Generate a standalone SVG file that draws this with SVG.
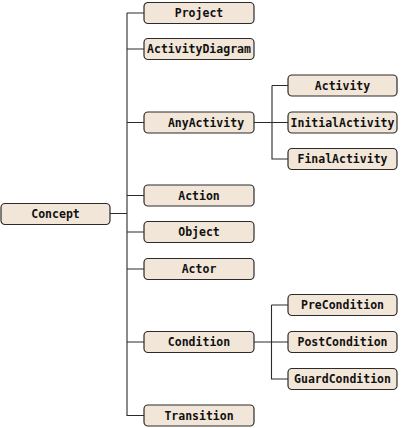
<svg xmlns="http://www.w3.org/2000/svg" width="401" height="428" viewBox="0 0 401 428">
<style>
.n rect{fill:#f2e6d8;stroke:#2b2b2b;stroke-width:1.2}
.n text{fill:#111;text-anchor:middle}
.c{fill:none;stroke:#2b2b2b;stroke-width:1.1}
</style>
<rect width="401" height="428" fill="#fff"/>
<g id="connectors" class="c">
<path d="M110,213.5H127M127,13V415.5H144M127,13H144M127,49H144M127,122.5H144M127,195.5H144M127,232H144M127,269H144M127,342H144"/>
<path d="M254,122.5H288M272,85.5V159H288M272,85.5H288"/>
<path d="M254,342H288M271.5,305V379H288M271.5,305H288"/>
</g>
<g font-family="DejaVu Sans Mono, monospace" font-weight="bold" font-size="11.5">
<g id="Concept" class="n"><rect x="1" y="203.5" width="109" height="21" rx="4"/><text x="55.5" y="218">Concept</text></g>
<g id="Project" class="n"><rect x="144" y="2.5" width="110" height="21" rx="4"/><text x="199" y="17">Project</text></g>
<g id="ActivityDiagram" class="n"><rect x="144" y="38.5" width="110" height="21" rx="4"/><text x="199" y="53">ActivityDiagram</text></g>
<g id="AnyActivity" class="n"><rect x="144" y="112" width="110" height="21" rx="4"/><text x="206" y="126.5">AnyActivity</text></g>
<g id="Action" class="n"><rect x="144" y="185" width="110" height="21" rx="4"/><text x="199" y="199.5">Action</text></g>
<g id="Object" class="n"><rect x="144" y="221.5" width="110" height="21" rx="4"/><text x="199" y="236">Object</text></g>
<g id="Actor" class="n"><rect x="144" y="258.5" width="110" height="21" rx="4"/><text x="199" y="273">Actor</text></g>
<g id="Condition" class="n"><rect x="144" y="331.5" width="110" height="21" rx="4"/><text x="199" y="346">Condition</text></g>
<g id="Transition" class="n"><rect x="144" y="405" width="110" height="21" rx="4"/><text x="199" y="419.5">Transition</text></g>
<g id="Activity" class="n"><rect x="288" y="75" width="109" height="21" rx="4"/><text x="342.5" y="89.5">Activity</text></g>
<g id="InitialActivity" class="n"><rect x="288" y="112" width="109" height="21" rx="4"/><text x="342.5" y="126.5">InitialActivity</text></g>
<g id="FinalActivity" class="n"><rect x="288" y="148.5" width="109" height="21" rx="4"/><text x="342.5" y="163">FinalActivity</text></g>
<g id="PreCondition" class="n"><rect x="288" y="294.5" width="109" height="21" rx="4"/><text x="342.5" y="309">PreCondition</text></g>
<g id="PostCondition" class="n"><rect x="288" y="331.5" width="109" height="21" rx="4"/><text x="342.5" y="346">PostCondition</text></g>
<g id="GuardCondition" class="n"><rect x="288" y="368.5" width="109" height="21" rx="4"/><text x="342.5" y="383">GuardCondition</text></g>
</g>
</svg>
